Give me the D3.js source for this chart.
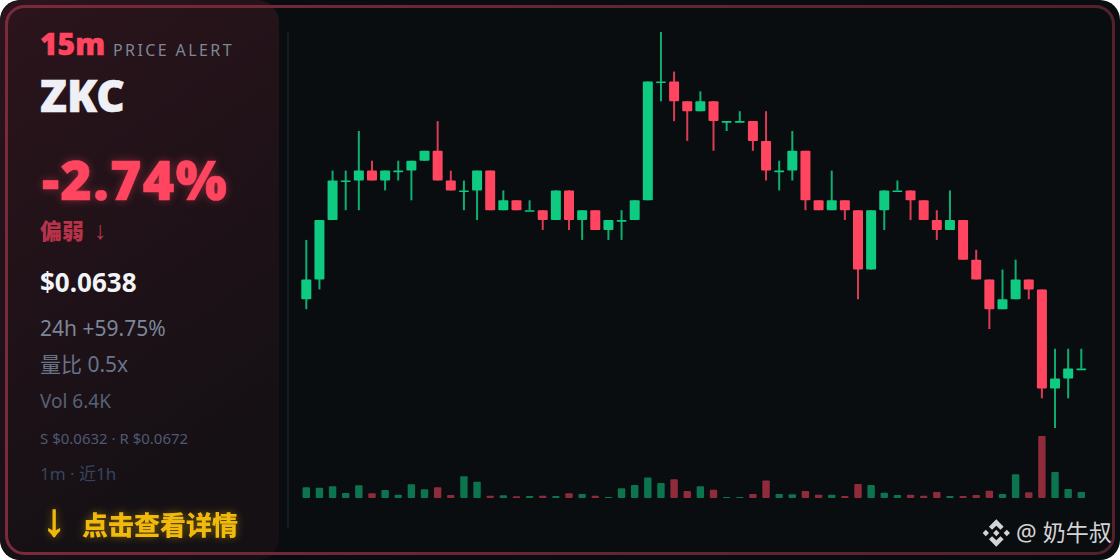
<!DOCTYPE html>
<html>
<head>
<meta charset="utf-8">
<script src="https://cdn.jsdelivr.net/npm/d3@7"></script>
<style>
  html, body { margin: 0; padding: 0; background: #fff; overflow: hidden; }
  svg { display: block; }
  text { font-family: "Noto Sans", "Noto Sans CJK SC", sans-serif; }
  .arrow { font-family: "Liberation Sans", sans-serif; }
</style>
</head>
<body>
<div class="chart"></div>
<script>
// candle data
const opens = [.0645,.0647,.0653,.0657,.0657,.0658,.0657,.0658,.0658,.0659,.0660,.0657,.0656,.0656,.0658,.0654,.0655,.0654,.0654,.0653,.0656,.0653,.0654,.0652,.0653,.0653,.0655,.0667,.0667,.0665,.0664,.0665,.0663,.0663,.0663,.0661,.0658,.0658,.0660,.0655,.0654,.0655,.0654,.0648,.0654,.0656,.0656,.0655,.0653,.0652,.0653,.0649,.0647,.0644,.0645,.0647,.0646,.0636,.0637,.0638];
const closes = [.0647,.0653,.0657,.0657,.0658,.0657,.0658,.0658,.0659,.0660,.0657,.0656,.0656,.0658,.0654,.0655,.0654,.0654,.0653,.0656,.0653,.0654,.0652,.0653,.0653,.0655,.0667,.0667,.0665,.0664,.0665,.0663,.0663,.0663,.0661,.0658,.0658,.0660,.0655,.0654,.0655,.0654,.0648,.0654,.0656,.0656,.0655,.0653,.0652,.0653,.0649,.0647,.0644,.0645,.0647,.0646,.0636,.0637,.0638,.0638];
const highs = [.0651,.0653,.0658,.0658,.0662,.0659,.0658,.0659,.0659,.0660,.0663,.0658,.0657,.0658,.0658,.0656,.0655,.0655,.0654,.0656,.0656,.0654,.0654,.0653,.0654,.0655,.0667,.0672,.0668,.0665,.0666,.0665,.0663,.0664,.0663,.0664,.0659,.0662,.0660,.0655,.0658,.0655,.0654,.0654,.0656,.0657,.0656,.0655,.0654,.0656,.0653,.0650,.0647,.0648,.0649,.0647,.0646,.0640,.0640,.0640];
const lows = [.0644,.0646,.0653,.0654,.0654,.0657,.0656,.0657,.0655,.0659,.0657,.0656,.0654,.0653,.0654,.0654,.0654,.0654,.0652,.0653,.0652,.0651,.0652,.0651,.0651,.0653,.0655,.0665,.0663,.0661,.0664,.0660,.0662,.0663,.0660,.0657,.0656,.0657,.0654,.0654,.0654,.0653,.0645,.0648,.0652,.0656,.0653,.0653,.0651,.0652,.0649,.0647,.0642,.0644,.0645,.0645,.0635,.0632,.0635,.0638];
const volumes = [11.4,11,12.5,5.3,13.5,5,8.5,3.5,14.6,9.3,11.4,3.2,23.2,17.4,2.5,2.9,1.8,2.1,2.5,2.1,5,4.3,2.5,1.1,10.3,13.9,21.7,16,20,7.5,12.5,8.9,1.1,1.1,4.3,18.5,4.3,3.9,7.5,3.5,3.5,2.1,14.9,13.9,5.7,3.2,3.5,2.5,6.4,2.1,2.1,3.2,7.8,4.3,25.3,6.1,66,27.7,9.6,6.4];

const width = 1120;
const height = 560;
const green = '#0ecb81';
const red = '#ff4560';

const svg = d3.select('.chart')
    .append('svg')
    .attr('width', width)
    .attr('height', height);

const defs = svg.append('defs');

const panelGrad = defs.append('linearGradient')
    .attr('id', 'panelGrad')
    .attr('x1', 0).attr('y1', 0).attr('x2', 0.35).attr('y2', 1);
panelGrad.append('stop').attr('offset', '0%').attr('stop-color', '#2c141c');
panelGrad.append('stop').attr('offset', '100%').attr('stop-color', '#141014');

const borderGrad = defs.append('linearGradient')
    .attr('id', 'borderGrad')
    .attr('x1', 0).attr('y1', 0).attr('x2', 1).attr('y2', 0);
borderGrad.append('stop').attr('offset', '0%').attr('stop-color', '#7a2a3c');
borderGrad.append('stop').attr('offset', '100%').attr('stop-color', '#55202d');

// card and left panel
svg.append('rect')
    .attr('width', width).attr('height', height)
    .attr('rx', 20)
    .attr('fill', '#0a0d10');

svg.append('rect')
    .attr('x', 0).attr('y', 0)
    .attr('width', 279).attr('height', height)
    .attr('rx', 22)
    .attr('fill', 'url(#panelGrad)');

svg.append('rect')
    .attr('x', 6.5).attr('y', 6.5)
    .attr('width', 1107).attr('height', 547)
    .attr('rx', 18)
    .attr('fill', 'none')
    .attr('stroke', 'url(#borderGrad)')
    .attr('stroke-width', 3);

svg.append('line')
    .attr('x1', 288).attr('x2', 288)
    .attr('y1', 32).attr('y2', 528)
    .attr('stroke', '#1d2529')
    .attr('stroke-width', 1.5);

// scales
const x = d3.scaleLinear().domain([0, opens.length - 1]).range([306.3, 1081.3]);
const y = d3.scaleLinear().domain([0.0632, 0.0672]).range([428, 32]);
const yVol = d3.scaleLinear().domain([0, d3.max(volumes)]).range([498, 436]);

const idx = d3.range(opens.length);
const colorOf = i => closes[i] >= opens[i] ? green : red;

// volume
svg.append('g').selectAll('rect')
    .data(idx)
    .join('rect')
    .attr('x', i => x(i) - 3.7)
    .attr('y', i => yVol(volumes[i]))
    .attr('width', 7.4)
    .attr('height', i => 498 - yVol(volumes[i]))
    .attr('rx', 1)
    .attr('fill', colorOf)
    .attr('opacity', 0.55);

// wicks
svg.append('g').selectAll('line')
    .data(idx)
    .join('line')
    .attr('x1', i => x(i)).attr('x2', i => x(i))
    .attr('y1', i => y(highs[i]))
    .attr('y2', i => y(lows[i]))
    .attr('stroke', colorOf)
    .attr('stroke-width', 2)
    .attr('opacity', 0.85);

// bodies
svg.append('g').selectAll('rect')
    .data(idx)
    .join('rect')
    .attr('x', i => x(i) - 5)
    .attr('y', i => y(Math.max(opens[i], closes[i])))
    .attr('width', 10)
    .attr('height', i => Math.max(1.6, Math.abs(y(opens[i]) - y(closes[i]))))
    .attr('rx', 1)
    .attr('fill', colorOf);

// left panel text
const label = (txt, px, py, size, weight, fill, extra) => {
    const t = svg.append('text')
        .attr('x', px).attr('y', py)
        .attr('font-size', size)
        .attr('font-weight', weight)
        .attr('fill', fill)
        .text(txt);
    if (extra) t.style('filter', extra);
    return t;
};

label('15m', 40, 55, 30, 900, red).attr('stroke', red).attr('stroke-width', 0.5);
label('PRICE ALERT', 113, 56, 16, 400, '#7d8796').attr('letter-spacing', 2.4);
label('ZKC', 40, 112, 44, 900, '#eef0f5').attr('stroke', '#eef0f5').attr('stroke-width', 0.6);
label('-2.74%', 42, 200, 54, 900, red, 'drop-shadow(0 0 4px rgba(255,69,96,0.4))')
    .attr('letter-spacing', 1.2)
    .attr('stroke', red).attr('stroke-width', 0.6);
const weak = label('偏弱 ', 40, 239, 22, 900, '#b8324a');
weak.append('tspan').attr('class', 'arrow').attr('dx', 4).attr('font-size', 25).attr('font-weight', 400).text('↓');
label('$0.0638', 40, 292, 26, 700, '#f2f4f8');
label('24h +59.75%', 40, 336, 21, 400, '#7b8699');
label('量比 0.5x', 40, 372, 21, 400, '#687388');
label('Vol 6.4K', 40, 408, 19, 400, '#566178');
label('S $0.0632 · R $0.0672', 40, 444, 15, 400, '#4e5970');
label('1m · 近1h', 40, 480, 17, 400, '#39435e');
const glow = 'drop-shadow(0 0 4px rgba(240,185,11,0.45))';
label('↓', 43, 535, 45, 700, '#f0b90b', glow).attr('class', 'arrow')
    .attr('stroke', '#f0b90b').attr('stroke-width', 1.4);
label('点击查看详情', 82, 535, 26, 900, '#f0b90b', glow);

// watermark
const logo = svg.append('g')
    .attr('transform', 'translate(996.3,533) scale(1.05)')
    .attr('fill', '#d4d4d4');
logo.append('path').attr('d', 'M0,-13 L7,-6 L4,-3 L0,-7 L-4,-3 L-7,-6 Z');
logo.append('path').attr('d', 'M0,13 L7,6 L4,3 L0,7 L-4,3 L-7,6 Z');
logo.append('path').attr('d', 'M-13,0 L-10,-3 L-7,0 L-10,3 Z');
logo.append('path').attr('d', 'M13,0 L10,-3 L7,0 L10,3 Z');
logo.append('path').attr('d', 'M0,-3 L3,0 L0,3 L-3,0 Z');
label('@ 奶牛叔', 1016, 541, 23, 400, '#d4d4d4');
</script>
</body>
</html>
